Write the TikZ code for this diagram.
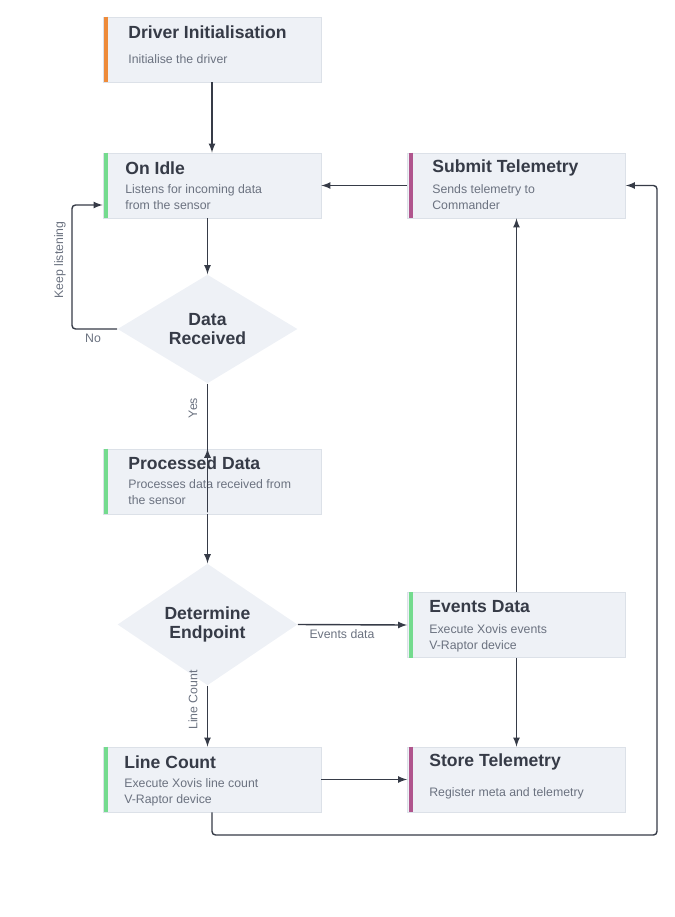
\documentclass[tikz,border=0pt]{standalone}
\usepackage{fontspec}
\setmainfont{Liberation Sans}
\usepackage{xcolor}
\usetikzlibrary{shapes.geometric}
\definecolor{fond}{HTML}{EEF1F6}
\definecolor{bord}{HTML}{DCE1E8}
\definecolor{encre}{HTML}{363B47}
\definecolor{gris}{HTML}{6B7280}
\definecolor{orange}{HTML}{EE8B3A}
\definecolor{vert}{HTML}{74DB8E}
\definecolor{violet}{HTML}{B0558D}
\begin{document}
\begin{tikzpicture}[x=0.02cm,y=-0.02cm]
% Styles
\tikzstyle{fleche}=[->,>=latex,draw=encre,thick,rounded corners=2pt]
\tikzstyle{boite}=[rectangle,fill=fond,draw=bord,minimum width=4.36cm,minimum height=1.3cm,inner sep=0pt]
\tikzstyle{losange}=[diamond,fill=fond,draw=none,minimum width=3.6cm,minimum height=1.56cm,inner sep=0pt,align=center,font=\fontsize{10}{11}\selectfont\bfseries,text=encre]
\tikzstyle{titre}=[anchor=west,inner sep=0pt,font=\fontsize{10}{12}\selectfont\bfseries,text=encre]
\tikzstyle{texte}=[anchor=north west,inner sep=0pt,align=left,font=\fontsize{7}{9.5}\selectfont,text=gris]
\tikzstyle{etiquette}=[inner sep=1pt,font=\fontsize{7}{8}\selectfont,text=gris]
\tikzstyle{barre}=[line width=2.2pt]
\useasboundingbox (0,0) rectangle (675,917);
% Boites
\node[boite] (Init) at (212,49.5) {};
\node[boite] (Idle) at (212,185.5) {};
\node[boite] (Submit) at (516.5,185.5) {};
\node[boite] (Proc) at (212,481.5) {};
\node[boite] (Events) at (516.5,625) {};
\node[boite] (Line) at (212,779.5) {};
\node[boite] (Store) at (516.5,779.5) {};
\node[losange] (Recu) at (207.5,329) {Data\\Received};
\node[losange] (Dest) at (207.5,624.5) {Determine\\Endpoint};
% Barres de couleur
\draw[barre,orange] ([xshift=2pt]Init.north west) -- ([xshift=2pt]Init.south west);
\draw[barre,vert] ([xshift=2pt]Idle.north west) -- ([xshift=2pt]Idle.south west);
\draw[barre,violet] ([xshift=2pt]Submit.north west) -- ([xshift=2pt]Submit.south west);
\draw[barre,vert] ([xshift=2pt]Proc.north west) -- ([xshift=2pt]Proc.south west);
\draw[barre,vert] ([xshift=2pt]Events.north west) -- ([xshift=2pt]Events.south west);
\draw[barre,vert] ([xshift=2pt]Line.north west) -- ([xshift=2pt]Line.south west);
\draw[barre,violet] ([xshift=2pt]Store.north west) -- ([xshift=2pt]Store.south west);
% Textes
\node[titre] (tInit) at (128,32) {Driver Initialisation};
\node[texte] (dInit) at (128,54) {Initialise the driver};
\node[titre] (tIdle) at (125,168) {On Idle};
\node[texte] (dIdle) at (125,184) {Listens for incoming data\\from the sensor};
\node[titre] (tSubmit) at (432,168) {Submit Telemetry};
\node[texte] (dSubmit) at (432,184) {Sends telemetry to\\Commander};
\node[titre] (tProc) at (128,463) {Processed Data};
\node[texte] (dProc) at (128,479) {Processes data received from\\the sensor};
\node[titre] (tEvents) at (429,607) {Events Data};
\node[texte] (dEvents) at (429,624) {Execute Xovis events\\V-Raptor device};
\node[titre] (tLine) at (124,762) {Line Count};
\node[texte] (dLine) at (124,778) {Execute Xovis line count\\V-Raptor device};
\node[titre] (tStore) at (429,762) {Store Telemetry};
\node[texte] (dStore) at (429,787) {Register meta and telemetry};
% Arcs
\draw[fleche] (Init.south) -- (Idle.north);
\draw[fleche] (Submit.west) -- (Idle.east);
\draw[fleche] (Idle.south -| Recu) -- (Recu.north);
\draw[fleche] (Recu.west) -- (72,329) -- (72,205) -- (Idle.west |- 0,205);
\draw[fleche] (Recu.south) -- (Proc.south -| Recu.south) -- ([yshift=0pt]Proc.north -| Recu);
\draw[fleche] (Proc.south -| Dest) -- (Dest.north);
\draw[fleche] (Dest.east) -- (Events.west);
\draw[fleche] (Dest.south) -- (Line.north -| Dest);
\draw[fleche] (Events.north) -- (Submit.south);
\draw[fleche] (Events.south) -- (Store.north);
\draw[fleche] (Line.east) -- (Store.west);
\draw[fleche] (Line.south) -- (212,835) -- (657,835) -- (657,185.5) -- (Submit.east);
% Etiquettes
\node[etiquette] (lNo) at (93,338) {No};
\node[etiquette,rotate=90] (lKeep) at (60,260) {Keep listening};
\node[etiquette,rotate=90] (lYes) at (193,408) {Yes};
\node[etiquette] (lEvents) at (342,634) {Events data};
\node[etiquette,rotate=90] (lLine) at (193,700) {Line Count};
\end{tikzpicture}
\end{document}
